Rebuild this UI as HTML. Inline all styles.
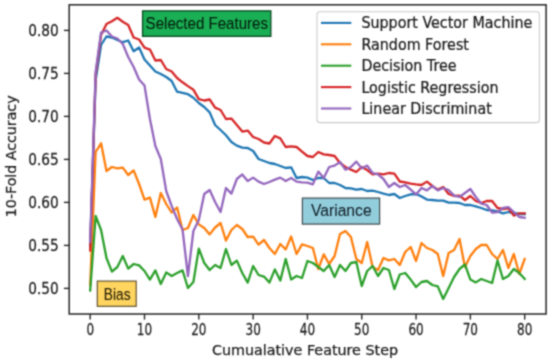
<!DOCTYPE html>
<html><head><meta charset="utf-8"><title>10-Fold Accuracy vs Cumulative Feature Step</title>
<style>
html,body{margin:0;padding:0;background:#fff;}
svg{display:block}
text{font-family:"DejaVu Sans","Liberation Sans",sans-serif;font-size:14.3px;fill:#1c1c1c;stroke:#1c1c1c;stroke-width:0.25px}
.tk{font-size:15.4px}
.lg{font-size:15.2px}
.ann{font-family:"Liberation Sans","DejaVu Sans",sans-serif;font-size:16.3px;stroke-width:0.1px}
</style></head><body>
<svg width="550" height="360" viewBox="0 0 550 360">
<defs><filter id="soft" x="0" y="0" width="550" height="360" filterUnits="userSpaceOnUse" color-interpolation-filters="sRGB"><feConvolveMatrix order="3" kernelMatrix="0.0439 0.1217 0.0439 0.1217 0.3377 0.1217 0.0439 0.1217 0.0439" divisor="1" edgeMode="duplicate" preserveAlpha="false"/></filter></defs>
<rect width="550" height="360" fill="#ffffff"/>
<g filter="url(#soft)">
<g fill="none" stroke-width="2.3" stroke-linejoin="round" stroke-linecap="square">
<polyline stroke="#1f77b4" points="90.20,246.0 95.63,80.0 101.06,45.0 106.49,36.5 111.92,37.5 117.36,40.0 122.79,42.2 128.22,40.5 133.65,51.2 139.08,47.5 144.51,59.5 149.94,65.5 155.37,71.5 160.80,74.0 166.23,77.0 171.67,81.0 177.10,91.7 182.53,92.8 187.96,94.2 193.39,97.7 198.82,103.0 204.25,107.0 209.68,112.4 215.11,125.0 220.54,130.0 225.98,135.3 231.41,142.0 236.84,145.6 242.27,147.6 247.70,148.0 253.13,151.0 258.56,159.0 263.99,161.0 269.42,163.0 274.85,164.0 280.29,166.0 285.72,168.0 291.15,167.3 296.58,178.0 302.01,177.0 307.44,177.6 312.87,180.0 318.30,178.0 323.73,178.0 329.16,183.0 334.60,183.0 340.03,185.0 345.46,188.0 350.89,188.4 356.32,189.6 361.75,189.0 367.18,191.0 372.61,190.6 378.04,192.0 383.47,193.6 388.90,195.0 394.34,194.0 399.77,198.0 405.20,196.0 410.63,194.4 416.06,194.0 421.49,196.4 426.92,199.6 432.35,200.0 437.78,200.6 443.21,200.6 448.65,202.6 454.08,202.6 459.51,203.0 464.94,205.0 470.37,205.0 475.80,206.4 481.23,208.0 486.66,210.0 492.09,210.4 497.52,211.5 502.96,213.3 508.39,212.0 513.82,213.0 519.25,214.0 524.68,214.0"/>
<polyline stroke="#ff7f0e" points="90.20,285.0 95.63,152.0 101.06,143.3 106.49,171.0 111.92,167.0 117.36,168.4 122.79,167.6 128.22,175.0 133.65,170.4 139.08,184.0 144.51,199.6 149.94,197.6 155.37,217.0 160.80,193.0 166.23,204.0 171.67,212.5 177.10,207.5 182.53,230.0 187.96,228.0 193.39,215.0 198.82,224.4 204.25,228.0 209.68,234.4 215.11,227.5 220.54,223.0 225.98,240.6 231.41,230.0 236.84,225.0 242.27,229.0 247.70,237.0 253.13,236.6 258.56,244.6 263.99,240.0 269.42,248.0 274.85,254.0 280.29,244.0 285.72,249.4 291.15,236.5 296.58,254.0 302.01,244.4 307.44,246.0 312.87,248.0 318.30,269.0 323.73,254.4 329.16,264.0 334.60,256.0 340.03,234.0 345.46,231.0 350.89,237.0 356.32,259.0 361.75,263.0 367.18,242.0 372.61,267.0 378.04,270.0 383.47,258.0 388.90,260.4 394.34,259.0 399.77,265.0 405.20,252.0 410.63,247.0 416.06,261.0 421.49,243.0 426.92,248.0 432.35,250.0 437.78,254.0 443.21,276.0 448.65,253.0 454.08,250.0 459.51,239.0 464.94,267.0 470.37,256.0 475.80,249.0 481.23,245.0 486.66,245.0 492.09,254.0 497.52,259.0 502.96,250.0 508.39,268.0 513.82,254.0 519.25,274.0 524.68,259.0"/>
<polyline stroke="#2ca02c" points="90.20,290.5 95.63,216.0 101.06,230.0 106.49,258.0 111.92,271.6 117.36,267.0 122.79,256.0 128.22,268.6 133.65,264.0 139.08,265.4 144.51,271.0 149.94,279.6 155.37,270.4 160.80,284.0 166.23,272.4 171.67,276.0 177.10,273.0 182.53,270.4 187.96,288.0 193.39,282.0 198.82,248.6 204.25,263.0 209.68,270.0 215.11,265.0 220.54,268.0 225.98,249.0 231.41,265.0 236.84,260.6 242.27,273.0 247.70,282.6 253.13,266.0 258.56,275.0 263.99,276.6 269.42,282.6 274.85,269.4 280.29,280.6 285.72,259.0 291.15,279.5 296.58,276.0 302.01,278.0 307.44,261.0 312.87,263.0 318.30,267.0 323.73,271.0 329.16,265.0 334.60,277.0 340.03,265.0 345.46,271.0 350.89,263.0 356.32,262.0 361.75,286.0 367.18,271.0 372.61,266.0 378.04,276.0 383.47,268.0 388.90,270.0 394.34,289.0 399.77,274.5 405.20,273.0 410.63,279.6 416.06,287.0 421.49,282.0 426.92,281.0 432.35,285.0 437.78,286.4 443.21,299.0 448.65,288.0 454.08,277.0 459.51,269.0 464.94,264.4 470.37,279.6 475.80,282.4 481.23,279.0 486.66,281.0 492.09,283.0 497.52,260.5 502.96,279.0 508.39,276.0 513.82,269.0 519.25,273.0 524.68,279.0"/>
<polyline stroke="#d62728" points="90.20,250.5 95.63,75.0 101.06,35.0 106.49,24.0 111.92,21.2 117.36,17.8 122.79,21.8 128.22,25.0 133.65,37.5 139.08,39.5 144.51,47.6 149.94,49.6 155.37,60.5 160.80,60.0 166.23,69.0 171.67,71.5 177.10,78.0 182.53,82.3 187.96,86.1 193.39,89.7 198.82,99.1 204.25,100.5 209.68,99.5 215.11,107.6 220.54,110.0 225.98,119.0 231.41,118.6 236.84,125.0 242.27,131.6 247.70,130.6 253.13,137.0 258.56,139.0 263.99,142.5 269.42,143.5 274.85,136.0 280.29,138.4 285.72,147.0 291.15,146.4 296.58,147.0 302.01,151.6 307.44,156.0 312.87,157.0 318.30,152.0 323.73,154.4 329.16,155.0 334.60,156.0 340.03,163.0 345.46,167.0 350.89,169.6 356.32,172.0 361.75,167.0 367.18,170.0 372.61,174.4 378.04,173.6 383.47,174.4 388.90,173.0 394.34,173.6 399.77,181.5 405.20,182.4 410.63,183.6 416.06,184.4 421.49,185.0 426.92,181.6 432.35,186.0 437.78,189.6 443.21,187.0 448.65,194.0 454.08,196.0 459.51,195.6 464.94,200.0 470.37,196.0 475.80,201.0 481.23,203.0 486.66,201.0 492.09,201.0 497.52,208.0 502.96,209.0 508.39,208.3 513.82,215.6 519.25,213.3 524.68,213.3"/>
<polyline stroke="#9467bd" points="90.20,242.0 95.63,72.0 101.06,32.5 106.49,30.5 111.92,36.5 117.36,38.5 122.79,44.0 128.22,57.0 133.65,67.0 139.08,79.5 144.51,85.6 149.94,119.0 155.37,146.0 160.80,159.0 166.23,191.0 171.67,206.0 177.10,219.0 182.53,229.5 187.96,276.0 193.39,231.0 198.82,220.0 204.25,194.0 209.68,190.0 215.11,202.0 220.54,212.0 225.98,188.0 231.41,193.6 236.84,179.0 242.27,174.4 247.70,181.0 253.13,177.6 258.56,181.6 263.99,184.0 269.42,182.0 274.85,179.6 280.29,177.6 285.72,181.0 291.15,178.0 296.58,181.6 302.01,182.4 307.44,182.6 312.87,184.4 318.30,171.6 323.73,178.0 329.16,167.0 334.60,165.6 340.03,162.0 345.46,169.6 350.89,167.0 356.32,161.6 361.75,168.4 367.18,165.6 372.61,173.0 378.04,174.4 383.47,179.0 388.90,187.0 394.34,183.0 399.77,187.0 405.20,185.0 410.63,189.6 416.06,194.4 421.49,188.0 426.92,190.4 432.35,186.0 437.78,190.4 443.21,188.0 448.65,190.0 454.08,195.6 459.51,197.0 464.94,193.0 470.37,189.0 475.80,197.0 481.23,203.6 486.66,205.0 492.09,212.5 497.52,212.2 502.96,208.0 508.39,207.2 513.82,212.0 519.25,217.0 524.68,217.8"/>
</g>
<rect x="69.2" y="4.8" width="476.9" height="309.2" fill="none" stroke="#262626" stroke-width="1.5"/>
<g stroke="#262626" stroke-width="1.4">
<line x1="90.20" y1="314.0" x2="90.20" y2="319.6"/>
<line x1="144.51" y1="314.0" x2="144.51" y2="319.6"/>
<line x1="198.82" y1="314.0" x2="198.82" y2="319.6"/>
<line x1="253.13" y1="314.0" x2="253.13" y2="319.6"/>
<line x1="307.44" y1="314.0" x2="307.44" y2="319.6"/>
<line x1="361.75" y1="314.0" x2="361.75" y2="319.6"/>
<line x1="416.06" y1="314.0" x2="416.06" y2="319.6"/>
<line x1="470.37" y1="314.0" x2="470.37" y2="319.6"/>
<line x1="524.68" y1="314.0" x2="524.68" y2="319.6"/>
<line x1="69.2" y1="288.4" x2="63.9" y2="288.4"/>
<line x1="69.2" y1="245.4" x2="63.9" y2="245.4"/>
<line x1="69.2" y1="202.4" x2="63.9" y2="202.4"/>
<line x1="69.2" y1="159.4" x2="63.9" y2="159.4"/>
<line x1="69.2" y1="116.4" x2="63.9" y2="116.4"/>
<line x1="69.2" y1="73.4" x2="63.9" y2="73.4"/>
<line x1="69.2" y1="30.4" x2="63.9" y2="30.4"/>
</g>
<text class="tk" transform="translate(90.20,335.2) scale(0.78,1)" text-anchor="middle">0</text>
<text class="tk" transform="translate(144.51,335.2) scale(0.78,1)" text-anchor="middle">10</text>
<text class="tk" transform="translate(198.82,335.2) scale(0.78,1)" text-anchor="middle">20</text>
<text class="tk" transform="translate(253.13,335.2) scale(0.78,1)" text-anchor="middle">30</text>
<text class="tk" transform="translate(307.44,335.2) scale(0.78,1)" text-anchor="middle">40</text>
<text class="tk" transform="translate(361.75,335.2) scale(0.78,1)" text-anchor="middle">50</text>
<text class="tk" transform="translate(416.06,335.2) scale(0.78,1)" text-anchor="middle">60</text>
<text class="tk" transform="translate(470.37,335.2) scale(0.78,1)" text-anchor="middle">70</text>
<text class="tk" transform="translate(524.68,335.2) scale(0.78,1)" text-anchor="middle">80</text>
<text class="tk" transform="translate(58.8,294.0) scale(0.89,1)" text-anchor="end">0.50</text>
<text class="tk" transform="translate(58.8,251.0) scale(0.89,1)" text-anchor="end">0.55</text>
<text class="tk" transform="translate(58.8,208.0) scale(0.89,1)" text-anchor="end">0.60</text>
<text class="tk" transform="translate(58.8,165.0) scale(0.89,1)" text-anchor="end">0.65</text>
<text class="tk" transform="translate(58.8,122.0) scale(0.89,1)" text-anchor="end">0.70</text>
<text class="tk" transform="translate(58.8,79.0) scale(0.89,1)" text-anchor="end">0.75</text>
<text class="tk" transform="translate(58.8,36.0) scale(0.89,1)" text-anchor="end">0.80</text>
<text x="305" y="354.6" text-anchor="middle">Cumualative Feature Step</text>
<text transform="translate(16.1,156.3) rotate(-90)" text-anchor="middle" style="font-size:14.2px">10-Fold Accuracy</text>
<rect x="317" y="11.8" width="222.4" height="110.8" rx="2.8" fill="#ffffff" fill-opacity="0.8" stroke="#cccccc" stroke-width="1.1"/>
<line x1="321" y1="22.9" x2="351.3" y2="22.9" stroke="#1f77b4" stroke-width="2.1"/>
<text class="lg" transform="translate(361.4,28.4) scale(0.94,1)">Support Vector Machine</text>
<line x1="321" y1="44.3" x2="351.3" y2="44.3" stroke="#ff7f0e" stroke-width="2.1"/>
<text class="lg" transform="translate(361.4,49.8) scale(0.94,1)">Random Forest</text>
<line x1="321" y1="65.7" x2="351.3" y2="65.7" stroke="#2ca02c" stroke-width="2.1"/>
<text class="lg" transform="translate(361.4,71.2) scale(0.94,1)">Decision Tree</text>
<line x1="321" y1="87.1" x2="351.3" y2="87.1" stroke="#d62728" stroke-width="2.1"/>
<text class="lg" transform="translate(361.4,92.6) scale(0.94,1)">Logistic Regression</text>
<line x1="321" y1="108.5" x2="351.3" y2="108.5" stroke="#9467bd" stroke-width="2.1"/>
<text class="lg" transform="translate(361.4,114.0) scale(0.94,1)">Linear Discriminat</text>
<rect x="142.6" y="10.9" width="128.2" height="25.4" fill="#1aaf54" stroke="#0b4f26" stroke-width="1.4"/>
<text class="ann" x="145.6" y="28.8" textLength="122.4" lengthAdjust="spacingAndGlyphs" style="fill:#06210f;stroke:#06210f">Selected Features</text>
<rect x="302.4" y="198.1" width="77.2" height="26.0" fill="#92cddc" stroke="#3f4a4f" stroke-width="1.2"/>
<text class="ann" x="311" y="216.3" textLength="60.6" lengthAdjust="spacingAndGlyphs" style="fill:#16242c;stroke:#16242c">Variance</text>
<rect x="97.3" y="281.1" width="38.9" height="25.2" fill="#ffd55f" stroke="#5f5330" stroke-width="1.2"/>
<text class="ann" x="103.8" y="299.6" textLength="26.7" lengthAdjust="spacingAndGlyphs" style="fill:#2a2208;stroke:#2a2208">Bias</text>
</g></svg></body></html>
